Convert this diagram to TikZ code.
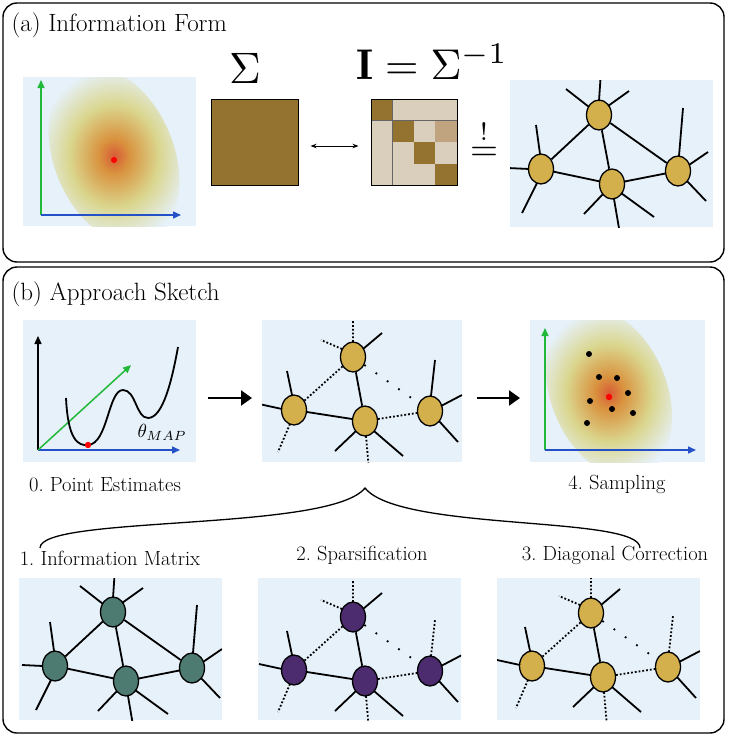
\documentclass[tikz,border=0pt]{standalone}
\usepackage{fontspec}
\usepackage{graphicx}
\usetikzlibrary{arrows.meta,shapes.geometric}
\definecolor{bgb}{HTML}{E6F1FA}
\definecolor{brn}{HTML}{94722F}
\definecolor{beige}{HTML}{D9CFBC}
\definecolor{medb}{HTML}{BFA47F}
\definecolor{gold}{HTML}{D4B04C}
\definecolor{teal2}{HTML}{4D7B72}
\definecolor{purp}{HTML}{4C2B6E}
\definecolor{gc}{HTML}{D85A38}
\definecolor{gm}{HTML}{D9923E}
\definecolor{gy}{HTML}{DAD68E}
\definecolor{axg}{HTML}{22B83A}
\definecolor{axb}{HTML}{2450C8}
\pgfdeclareradialshading{gauss}{\pgfpoint{0bp}{0bp}}{color(0bp)=(gc); color(5bp)=(gm); color(15bp)=(gy); color(26bp)=(bgb); color(50bp)=(bgb)}
\tikzset{
  panel/.style={draw, line width=1.4pt, rounded corners=14pt},
  box/.style={fill=bgb, draw=none},
  gn/.style={ellipse, draw, line width=1.3pt, minimum width=25pt, minimum height=30pt, inner sep=0pt},
  edge/.style={line width=1.8pt},
  dot/.style={line width=1.8pt, dotted},
  lbl/.style={font=\fontsize{20.5}{22}\selectfont},
  ttl/.style={font=\fontsize{25}{27}\selectfont, anchor=west},
  bigarr/.style={line width=2.2pt, -{Triangle[length=11pt,width=15pt]}},
  pics/fullg/.style={code={
    \node[gn,fill=#1] (-T) at (0,0) {};
    \node[gn,fill=#1] (-L) at (-58,54) {};
    \node[gn,fill=#1] (-M) at (13,69) {};
    \node[gn,fill=#1] (-R) at (79,56) {};
    \draw[edge] (-T)--(-L) (-T)--(-M) (-T)--(-R) (-L)--(-M) (-M)--(-R);
    \draw[edge] (-T.center)++(0,-14)--++(2,-30) (-T.center)++(-10,-8)--++(-23,-18) (-T.center)++(9,-9)--++(21,-15);
    \draw[edge] (-L.center)++(-12,0)--++(-21,-1) (-L.center)++(-1,-15)--++(-4,-29) (-L.center)++(-4,14)--++(-15,30);
    \draw[edge] (-M.center)++(-9,10)--++(-19,20) (-M.center)++(2,15)--++(7,41) (-M.center)++(9,9)--++(33,24);
    \draw[edge] (-R.center)++(1,-15)--++(4,-48) (-R.center)++(11,-6)--++(19,-13) (-R.center)++(9,10)--++(19,20);
  }},
  pics/sparseg/.style 2 args={code={
    \node[gn,fill=#1] (-T) at (0,0) {};
    \node[gn,fill=#1] (-L) at (-59,53) {};
    \node[gn,fill=#1] (-M) at (12,64) {};
    \node[gn,fill=#1] (-R) at (77,54) {};
    \draw[edge] (-T)--(-M) (-L)--(-M);
    \draw[dot] (-T)--(-L) (-M)--(-R);
    \draw[line width=1.8pt, dash pattern=on 1.8pt off 12pt] (-T)--(-R);
    \draw[dot] (-T.center)++(0,-15)--++(0,-22) (-T.center)++(-11,-8)--++(-21,-9);
    \draw[edge] (-T.center)++(10,-8)--++(19,-16);
    \draw[edge] (-L.center)++(-2,-15)--++(-5,-24) (-L.center)++(-12,-1)--++(-23,-5);
    \draw[dot] (-L.center)++(-4,14)--++(-12,28);
    \draw[edge] (-M.center)++(-9,10)--++(-21,20) (-M.center)++(9,10)--++(29,25);
    \draw[dot] (-M.center)++(1,15)--++(3,34);
    \draw[#2] (-R.center)++(1,-15)--++(4,-36);
    \draw[edge] (-R.center)++(11,-5)--++(21,-11) (-R.center)++(9,10)--++(19,21);
  }}
}
\begin{document}
\begin{tikzpicture}[x=1pt,y=-1pt]
\useasboundingbox (0,0) rectangle (728,736);
% ---------- panel (a)
\draw[panel] (3,3) rectangle (724,262);
\node[ttl] (ta) at (8,25) {(a) Information Form};
\fill[box] (23,77) rectangle (196,226);
\begin{scope}
\clip (23,77) rectangle (196,226);
\shade[shading=gauss] (114,156) ellipse[x radius=60, y radius=92, rotate=22];
\end{scope}
\fill[red] (114,160) circle (3);
\coordinate (o1) at (41,215);
\coordinate (y1) at (41,80);
\coordinate (x1) at (181,215);
\draw[axg, line width=1.5pt, -{Triangle[length=8pt,width=7pt]}] (o1)--(y1);
\draw[axb, line width=1.5pt, -{Triangle[length=8pt,width=7pt]}] (o1)--(x1);
\node (sig) at (245,68) {\scalebox{4.4}{$\Sigma$}};
\node (sq) [draw, line width=1pt, fill=brn, minimum width=87pt, minimum height=86pt, inner sep=0pt] at (254.5,142) {};
\node (inv) at (432,62) {\scalebox{4.3}{$\mathbf{I}=\Sigma^{-1}$}};
\node (mat) [draw, line width=1pt, fill=beige, minimum width=86pt, minimum height=86pt, inner sep=0pt] at (414,142) {};
\begin{scope}
\fill[brn] (371,99) rectangle (392,120);
\fill[brn] (392,120) rectangle (414,142);
\fill[brn] (414,142) rectangle (435,164);
\fill[brn] (435,164) rectangle (457,185);
\fill[medb] (435,120) rectangle (457,142);
\draw[black!60, line width=0.3pt] (392,99)--(392,185) (371,120)--(457,120);
\draw[black, line width=1pt] (371,99) rectangle (457,185);
\end{scope}
\draw[{Stealth[length=6pt]}-{Stealth[length=6pt]}, line width=1pt] (sq.east)++(12,4) coordinate (da) -- ++(48,0) coordinate (db);
\node (eqx) at (484,140) {\scalebox{3.6}{$\stackrel{!}{=}$}};
\fill[box] (510,80) rectangle (713,227);
\begin{scope}
\clip (510,80) rectangle (713,227);
\pic (g0) at (599,115) {fullg=gold};
\end{scope}
% ---------- panel (b)
\draw[panel] (3,267) rectangle (724,733);
\node[ttl] (tb) at (8,294) {(b) Approach Sketch};
% box 0
\fill[box] (23,320) rectangle (196,462);
\coordinate (o2) at (38,450);
\draw[black, line width=1.5pt, -{Triangle[length=8pt,width=7pt]}] (o2)--(38,336) coordinate (y2);
\draw[axb, line width=1.5pt, -{Triangle[length=8pt,width=7pt]}] (o2)--(180,450) coordinate (x2);
\draw[axg, line width=1.5pt, -{Triangle[length=8pt,width=7pt]}] (o2)--(131,365) coordinate (g2);
\draw[line width=1.8pt] (66,398) .. controls (68,440) and (78,446) .. (88,445)
  .. controls (108,444) and (108,390) .. (123,390)
  .. controls (136,390) and (136,418) .. (148,418)
  .. controls (163,418) and (172,380) .. (178,347);
\fill[red] (88,445) circle (3.2);
\node (tm) at (162,432) {\scalebox{1.9}{$\theta_{MAP}$}};
\node[lbl] (l0) at (105,485) {0.~Point Estimates};
% box middle
\fill[box] (262,320) rectangle (462,462);
\begin{scope}
\clip (262,320) rectangle (462,462);
\pic (gm) at (353,357) {sparseg={gold}{edge}};
\end{scope}
\coordinate (a1s) at (208,398); \coordinate (a1e) at (252,398);
\draw[bigarr] (a1s)--(a1e);
\coordinate (a2s) at (477,398); \coordinate (a2e) at (520,398);
\draw[bigarr] (a2s)--(a2e);
% box right
\fill[box] (530,320) rectangle (705,462);
\begin{scope}
\clip (530,320) rectangle (705,462);
\shade[shading=gauss] (609,393) ellipse[x radius=58, y radius=88, rotate=22];
\end{scope}
\coordinate (o3) at (545,450);
\draw[axg, line width=1.5pt, -{Triangle[length=8pt,width=7pt]}] (o3)--(545,328) coordinate (y3);
\draw[axb, line width=1.5pt, -{Triangle[length=8pt,width=7pt]}] (o3)--(696,450) coordinate (x3);
\foreach \p in {(589,354),(599,377),(617,378),(628,393),(590,401),(633,413),(612,409),(587,423)} \fill \p circle (3);
\fill[red] (609,397) circle (3.2);
\node[lbl] (l4) at (617,484) {4.~Sampling};
% brace
\coordinate (bl) at (40,548); \coordinate (bt) at (365,488); \coordinate (br) at (640,548);
\draw[line width=1.3pt] (bl) .. controls (40,515) and (330,532) .. (bt) .. controls (400,532) and (640,515) .. (br);
\node[lbl] (l1) at (110,558) {1.~Information Matrix};
\node[lbl] (l2) at (362,555) {2.~Sparsification};
\node[lbl] (l3) at (615,555) {3.~Diagonal Correction};
% bottom boxes
\fill[box] (19,578) rectangle (222,720);
\begin{scope}
\clip (19,578) rectangle (222,720);
\pic (g1) at (113,612) {fullg=teal2};
\end{scope}
\fill[box] (258,578) rectangle (461,720);
\begin{scope}
\clip (258,578) rectangle (461,720);
\pic (g2) at (353,617) {sparseg={purp}{dot}};
\end{scope}
\fill[box] (497,578) rectangle (700,720);
\begin{scope}
\clip (497,578) rectangle (700,720);
\pic (g3) at (591,613) {sparseg={gold}{dot}};
\end{scope}
\end{tikzpicture}
\end{document}
